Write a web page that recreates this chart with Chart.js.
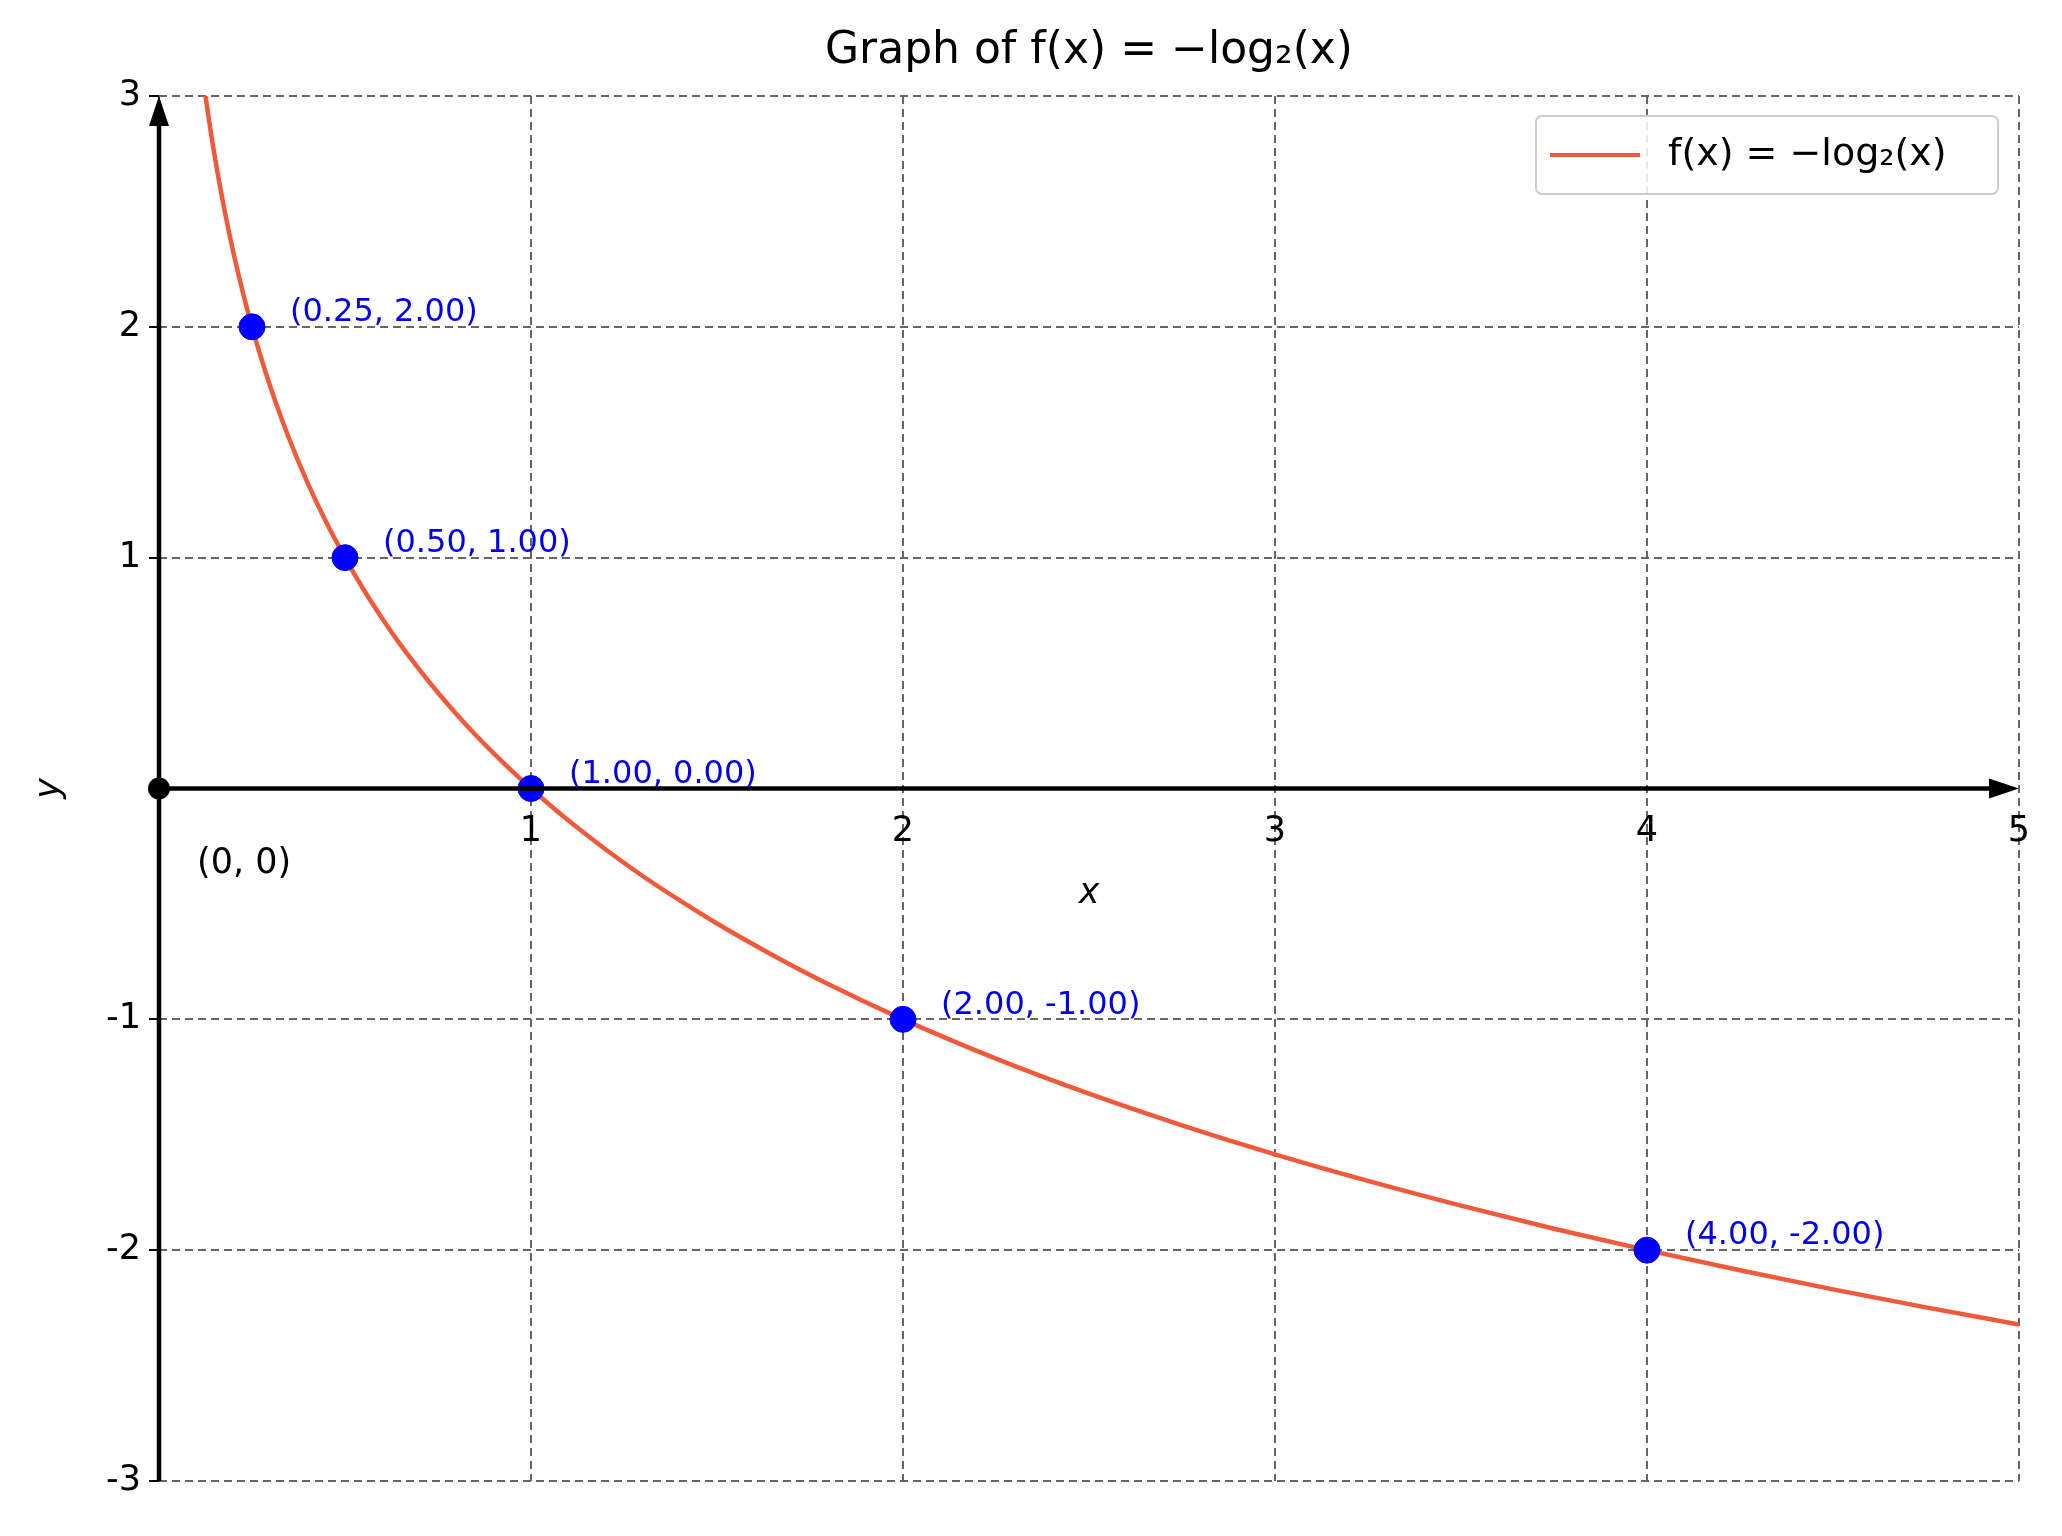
<!DOCTYPE html>
<html><head><meta charset="utf-8">
<script src="https://cdn.jsdelivr.net/npm/chart.js@4/dist/chart.umd.min.js"></script>
<style>html,body{margin:0;padding:0;background:#fff}#c{display:block}</style>
</head><body>
<canvas id="c" width="2062" height="1536"></canvas>
<script>
const curveX = [0.125,0.14,0.16,0.18,0.2,0.225,0.25,0.28,0.31,0.35,0.4,0.45,0.5,0.55,0.6,0.65,0.7,0.75,0.8,0.85,0.9,0.95,1,1.1,1.2,1.3,1.4,1.5,1.65,1.8,2,2.25,2.5,2.75,3,3.25,3.5,3.75,4,4.25,4.5,4.75,5];
const curveY = [3,2.836,2.644,2.474,2.322,2.152,2,1.837,1.690,1.515,1.322,1.152,1,0.862,0.737,0.621,0.515,0.415,0.322,0.234,0.152,0.074,0,-0.138,-0.263,-0.379,-0.485,-0.585,-0.722,-0.848,-1,-1.170,-1.322,-1.459,-1.585,-1.700,-1.807,-1.907,-2,-2.087,-2.170,-2.248,-2.322];
const ptX = [0.25,0.5,1,2,4];
const ptY = [2,1,0,-1,-2];
const ptLabels = ["(0.25, 2.00)","(0.50, 1.00)","(1.00, 0.00)","(2.00, -1.00)","(4.00, -2.00)"];
const xTicks = [1,2,3,4,5];
const yTicks = [-3,-2,-1,0,1,2,3];
const FONT = '"DejaVu Sans", sans-serif';

const overlay = {
  id:'overlay',
  afterDatasetsDraw(chart){
    const {ctx, chartArea:a, scales:{x,y}} = chart;
    const x0 = x.getPixelForValue(0), y0 = y.getPixelForValue(0);
    ctx.save();
    ctx.strokeStyle='#000'; ctx.fillStyle='#000'; ctx.lineWidth=4.5;
    ctx.beginPath(); ctx.moveTo(x0,a.bottom); ctx.lineTo(x0,a.top+12); ctx.stroke();
    ctx.beginPath(); ctx.moveTo(x0,y0); ctx.lineTo(a.right-14,y0); ctx.stroke();
    ctx.beginPath(); ctx.moveTo(x0,a.top); ctx.lineTo(x0-10,a.top+30); ctx.lineTo(x0+10,a.top+30); ctx.closePath(); ctx.fill();
    ctx.beginPath(); ctx.moveTo(a.right,y0); ctx.lineTo(a.right-30,y0-10); ctx.lineTo(a.right-30,y0+10); ctx.closePath(); ctx.fill();
    ctx.beginPath(); ctx.arc(x0,y0,11,0,Math.PI*2); ctx.fill();
    ctx.font='35px '+FONT; ctx.textAlign='center'; ctx.textBaseline='top';
    xTicks.forEach(v=>ctx.fillText(String(v), x.getPixelForValue(v), y0+26));
    ctx.textAlign='left'; ctx.fillText('(0, 0)', x0+38, y0+58);
    ctx.font='italic 35px '+FONT; ctx.textAlign='center';
    ctx.fillText('x', x.getPixelForValue(2.5), y0+88);
    ctx.save(); ctx.translate(50,y0); ctx.rotate(-Math.PI/2); ctx.textBaseline='middle'; ctx.fillText('y',0,0); ctx.restore();
    ctx.font='32px '+FONT; ctx.fillStyle='#0000ee'; ctx.textAlign='left'; ctx.textBaseline='middle';
    ptX.forEach((v,i)=>ctx.fillText(ptLabels[i], x.getPixelForValue(v)+38, y.getPixelForValue(ptY[i])-14));
    ctx.fillStyle='#000'; ctx.textAlign='center'; ctx.textBaseline='middle';
    ctx.font='44px '+FONT;
    ctx.fillText('Graph of f(x) = −log₂(x)', (a.left+a.right)/2, 52);
    const lx=1536, ly=116, lw=462, lh=78;
    ctx.fillStyle='rgba(255,255,255,0.85)'; ctx.strokeStyle='#ccc'; ctx.lineWidth=2;
    ctx.beginPath(); ctx.roundRect(lx,ly,lw,lh,6); ctx.fill(); ctx.stroke();
    ctx.strokeStyle='#f05a3a'; ctx.lineWidth=4;
    ctx.beginPath(); ctx.moveTo(lx+14,ly+lh/2); ctx.lineTo(lx+104,ly+lh/2); ctx.stroke();
    ctx.fillStyle='#000'; ctx.textAlign='left'; ctx.font='38px '+FONT;
    ctx.fillText('f(x) = −log₂(x)', lx+132, ly+lh/2);
    ctx.restore();
  }
};

new Chart(document.getElementById('c'), {
  type:'scatter',
  data:{datasets:[
    {data: ptX.map((v,i)=>({x:v,y:ptY[i]})), backgroundColor:'#0000ff', borderColor:'#0000ff', pointRadius:13, order:0},
    {data: curveX.map((v,i)=>({x:v,y:curveY[i]})), showLine:true, borderColor:'#f05a3a', borderWidth:4.5, pointRadius:0, cubicInterpolationMode:'monotone', order:1}
  ]},
  options:{
    responsive:false, animation:false,
    layout:{padding:{top:96,right:43,bottom:55,left:0}},
    plugins:{legend:{display:false},title:{display:false},tooltip:{enabled:false}},
    scales:{
      x:{type:'linear',min:0,max:5,afterFit(s){s.height=0;},
         afterBuildTicks(s){s.ticks=[0,...xTicks].map(v=>({value:v}));},
         ticks:{display:false},border:{display:false,dash:[8,5]},
         grid:{color:'#666',lineWidth:2,drawTicks:false}},
      y:{type:'linear',min:-3,max:3,afterFit(s){s.width=159;},
         afterBuildTicks(s){s.ticks=yTicks.map(v=>({value:v}));},
         ticks:{font:{family:FONT,size:35},color:'#000',padding:8,callback:v=>v===0?'':String(v)},
         border:{display:false,dash:[8,5]},
         grid:{color:'#666',lineWidth:2,tickLength:10,tickColor:'#000'}}
    }
  },
  plugins:[overlay]
});
</script>
</body></html>
